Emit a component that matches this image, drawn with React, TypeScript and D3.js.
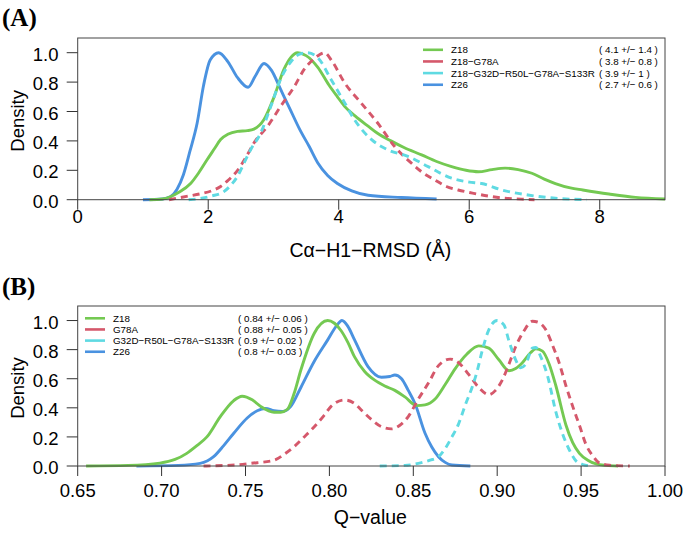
import React from "react";
import * as d3 from "d3";

// ---------- Panel A data (Cα-H1-RMSD, Å) ----------
const aTicksX = [0, 2, 4, 6, 8];
const yTicks = [0, 0.2, 0.4, 0.6, 0.8, 1.0];

const aZ18: [number, number][] = [
  [1.1, 0], [1.3, 0.005], [1.42, 0.02], [1.55, 0.05], [1.73, 0.11], [1.85, 0.18], [1.98, 0.27],
  [2.1, 0.35], [2.19, 0.41], [2.3, 0.445], [2.45, 0.465], [2.6, 0.47], [2.7, 0.48], [2.855, 0.545],
  [3.01, 0.7], [3.16, 0.886], [3.27, 0.97], [3.37, 1.0], [3.5, 0.98], [3.68, 0.9], [3.85, 0.78],
  [3.98, 0.7], [4.09, 0.635], [4.25, 0.57], [4.45, 0.5], [4.6, 0.45], [4.8, 0.4], [5.0, 0.355],
  [5.27, 0.305], [5.5, 0.26], [5.73, 0.225], [5.95, 0.2], [6.14, 0.19], [6.35, 0.205], [6.55, 0.215],
  [6.75, 0.205], [6.96, 0.18], [7.15, 0.14], [7.32, 0.11], [7.55, 0.08], [7.74, 0.066], [8.14, 0.039],
  [8.55, 0.016], [9.0, 0.005],
];
const aG78A: [number, number][] = [
  [1.4, 0], [1.52, 0.01], [1.7, 0.025], [1.88, 0.04], [2.05, 0.06], [2.19, 0.09], [2.3, 0.13],
  [2.45, 0.2], [2.58, 0.29], [2.7, 0.385], [2.91, 0.5], [3.11, 0.635], [3.32, 0.77], [3.47, 0.886],
  [3.6, 0.95], [3.7, 0.985], [3.78, 1.0], [3.9, 0.94], [4.09, 0.795], [4.34, 0.66], [4.6, 0.52],
  [4.86, 0.36], [5.11, 0.25], [5.3, 0.18], [5.47, 0.135], [5.65, 0.09], [5.83, 0.066], [6.05, 0.045],
  [6.29, 0.025], [6.5, 0.012], [6.8, 0.004], [7.0, 0],
];
const aQuad: [number, number][] = [
  [1.7, 0], [1.9, 0.01], [2.05, 0.025], [2.24, 0.055], [2.35, 0.1], [2.45, 0.16], [2.55, 0.25],
  [2.65, 0.34], [2.8, 0.45], [2.96, 0.635], [3.11, 0.82], [3.27, 0.94], [3.4, 0.99], [3.52, 1.0],
  [3.68, 0.966], [3.88, 0.82], [4.09, 0.66], [4.24, 0.545], [4.5, 0.41], [4.75, 0.34], [5.06, 0.295],
  [5.37, 0.225], [5.73, 0.146], [6.0, 0.12], [6.19, 0.11], [6.5, 0.066], [6.9, 0.032], [7.32, 0.01],
  [7.8, 0],
];
const aZ26: [number, number][] = [
  [1.0, 0], [1.3, 0.005], [1.42, 0.02], [1.52, 0.07], [1.62, 0.17], [1.72, 0.33], [1.83, 0.52],
  [1.93, 0.78], [2.03, 0.95], [2.16, 1.0], [2.3, 0.94], [2.45, 0.83], [2.61, 0.765], [2.72, 0.84],
  [2.855, 0.927], [2.97, 0.88], [3.11, 0.75], [3.25, 0.62], [3.4, 0.48], [3.55, 0.36], [3.68, 0.25],
  [3.83, 0.165], [3.98, 0.11], [4.2, 0.06], [4.45, 0.03], [4.96, 0.015], [5.5, 0.005],
];
const aNames = ["Z18", "Z18\u2212G78A", "Z18\u2212G32D\u2212R50L\u2212G78A\u2212S133R", "Z26"];
const aStats = ["( 4.1 +/\u2212 1.4 )", "( 3.8 +/\u2212 0.8 )", "( 3.9 +/\u2212 1 )", "( 2.7 +/\u2212 0.6 )"];

// ---------- Panel B data (Q-value) ----------
const bTicksX = [0.65, 0.7, 0.75, 0.8, 0.85, 0.9, 0.95, 1.0];

const bZ18: [number, number][] = [
  [0.655, 0], [0.68, 0.004], [0.699, 0.02], [0.708, 0.045], [0.715, 0.087], [0.721, 0.14],
  [0.727, 0.2], [0.735, 0.34], [0.743, 0.45], [0.748, 0.48], [0.754, 0.455], [0.759, 0.41],
  [0.767, 0.37], [0.771, 0.37], [0.775, 0.39], [0.779, 0.5], [0.783, 0.66], [0.791, 0.913],
  [0.799, 1.0], [0.807, 0.93], [0.811, 0.85], [0.815, 0.75], [0.821, 0.65], [0.827, 0.59],
  [0.833, 0.55], [0.839, 0.52], [0.845, 0.475], [0.852, 0.415], [0.857, 0.42], [0.863, 0.46],
  [0.869, 0.56], [0.875, 0.67], [0.882, 0.77], [0.889, 0.826], [0.895, 0.81], [0.901, 0.73],
  [0.907, 0.655], [0.911, 0.67], [0.915, 0.71], [0.92, 0.78], [0.923, 0.805], [0.927, 0.79],
  [0.931, 0.7], [0.935, 0.55], [0.941, 0.28], [0.945, 0.16], [0.949, 0.087], [0.954, 0.04],
  [0.959, 0.014], [0.965, 0.004], [0.972, 0],
];
const bG78A: [number, number][] = [
  [0.725, 0], [0.745, 0.008], [0.753, 0.018], [0.767, 0.04], [0.773, 0.08], [0.779, 0.133],
  [0.785, 0.2], [0.791, 0.27], [0.797, 0.35], [0.801, 0.41], [0.809, 0.454], [0.815, 0.43],
  [0.819, 0.385], [0.825, 0.32], [0.831, 0.27], [0.837, 0.255], [0.842, 0.28], [0.847, 0.34],
  [0.853, 0.46], [0.859, 0.57], [0.865, 0.69], [0.872, 0.735], [0.877, 0.71], [0.883, 0.63],
  [0.889, 0.54], [0.895, 0.49], [0.899, 0.52], [0.903, 0.59], [0.907, 0.7], [0.911, 0.82],
  [0.916, 0.93], [0.921, 0.995], [0.924, 0.99], [0.929, 0.936], [0.933, 0.83], [0.937, 0.707],
  [0.941, 0.55], [0.945, 0.41], [0.949, 0.28], [0.953, 0.145], [0.957, 0.07], [0.961, 0.02],
  [0.967, 0.005], [0.979, 0],
];
const bQuad: [number, number][] = [
  [0.83, 0], [0.845, 0.004], [0.853, 0.018], [0.86, 0.04], [0.865, 0.064], [0.869, 0.12],
  [0.873, 0.2], [0.877, 0.29], [0.881, 0.42], [0.885, 0.54], [0.888, 0.65], [0.891, 0.79],
  [0.895, 0.936], [0.9, 1.0], [0.904, 0.97], [0.907, 0.86], [0.911, 0.73], [0.914, 0.675],
  [0.917, 0.7], [0.921, 0.81], [0.923, 0.815], [0.926, 0.75], [0.93, 0.62], [0.935, 0.37],
  [0.939, 0.22], [0.943, 0.11], [0.947, 0.035], [0.951, 0.01], [0.956, 0],
];
const bZ26: [number, number][] = [
  [0.685, 0], [0.71, 0.004], [0.723, 0.018], [0.731, 0.064], [0.737, 0.14], [0.743, 0.225],
  [0.751, 0.33], [0.757, 0.38], [0.762, 0.395], [0.767, 0.38], [0.772, 0.375], [0.777, 0.41],
  [0.783, 0.54], [0.791, 0.72], [0.799, 0.867], [0.804, 0.96], [0.8075, 1.0], [0.811, 0.96],
  [0.815, 0.867], [0.823, 0.683], [0.831, 0.61], [0.836, 0.615], [0.839, 0.626], [0.843, 0.6],
  [0.847, 0.52], [0.851, 0.43], [0.857, 0.225], [0.861, 0.13], [0.865, 0.064], [0.869, 0.025],
  [0.873, 0.007], [0.884, 0],
];
const bNames = ["Z18", "G78A", "G32D\u2212R50L\u2212G78A\u2212S133R", "Z26"];
const bStats = ["( 0.84 +/\u2212 0.06 )", "( 0.88 +/\u2212 0.05 )", "( 0.9 +/\u2212 0.02 )", "( 0.8 +/\u2212 0.03 )"];

const colors = ["#74c952", "#d5586b", "#5fdae2", "#4a92e0"];
const dashed = [false, true, true, false];
const drawOrder = [3, 0, 1, 2];

const FONT = "'Liberation Sans', Arial, Helvetica, sans-serif";

type PanelProps = {
  top: number;
  bottom: number;
  xDomain: [number, number];
  xTicks: number[];
  xFmt: (v: number) => string;
  series: [number, number][][];
  names: string[];
  stats: string[];
  legendLineX: number;
  legendStatX: number;
  legendY0: number;
  legendDy: number;
  tag: string;
  tagY: number;
  xLabel: React.ReactNode;
  xLabelY: number;
  tickLabelY: number;
};

function Panel(p: PanelProps) {
  const left = 77.7;
  const right = 665;
  const x = d3.scaleLinear().domain(p.xDomain).range([left, right]);
  const y = d3.scaleLinear().domain([0, 1.1]).range([p.bottom, p.top]);
  const line = d3
    .line<[number, number]>()
    .x((d) => x(d[0]))
    .y((d) => y(d[1]))
    .curve(d3.curveMonotoneX);
  return (
    <g>
      <text x={2} y={p.tagY} fontFamily="'Liberation Serif', 'Times New Roman', serif" fontWeight="bold" fontSize={25}>
        {p.tag}
      </text>
      <g>
        {drawOrder.map((i) => (
          <path
            key={i}
            d={line(p.series[i]) || ""}
            fill="none"
            stroke={colors[i]}
            strokeWidth={2.9}
            strokeDasharray={dashed[i] ? "7,5" : undefined}
            strokeLinejoin="round"
          />
        ))}
      </g>
      <rect x={left} y={p.top} width={right - left} height={p.bottom - p.top} fill="none" stroke="#444" strokeWidth={1} />
      {p.xTicks.map((t) => (
        <g key={t}>
          <line x1={x(t)} x2={x(t)} y1={p.bottom} y2={p.bottom + 10} stroke="#333" strokeWidth={1} />
          <text x={x(t)} y={p.tickLabelY} textAnchor="middle" fontFamily={FONT} fontSize={18.5}>
            {p.xFmt(t)}
          </text>
        </g>
      ))}
      {yTicks.map((t) => (
        <g key={t}>
          <line x1={left - 11} x2={left} y1={y(t)} y2={y(t)} stroke="#333" strokeWidth={1} />
          <text x={58.5} y={y(t) + 8} textAnchor="end" fontFamily={FONT} fontSize={18.5}>
            {d3.format(".1f")(t)}
          </text>
        </g>
      ))}
      <text
        transform={`translate(${23.5},${(p.top + p.bottom) / 2 + 2}) rotate(-90)`}
        textAnchor="middle"
        fontFamily={FONT}
        fontSize={18.5}
      >
        Density
      </text>
      <text x={(left + right) / 2 - 1} y={p.xLabelY} textAnchor="middle" fontFamily={FONT} fontSize={19.5}>
        {p.xLabel}
      </text>
      {p.names.map((n, i) => {
        const ly = p.legendY0 + i * p.legendDy;
        return (
          <g key={n}>
            <line x1={p.legendLineX} x2={p.legendLineX + 20} y1={ly} y2={ly} stroke={colors[i]} strokeWidth={2.6} />
            <text x={p.legendLineX + 28} y={ly + 3.6} fontFamily={FONT} fontSize={9.8}>
              {n}
            </text>
            <text x={p.legendStatX} y={ly + 3.6} fontFamily={FONT} fontSize={9.8}>
              {p.stats[i]}
            </text>
          </g>
        );
      })}
    </g>
  );
}

export default function App() {
  return (
    <svg
      width={685}
      height={533}
      viewBox="0 0 685 533"
      style={{ position: "absolute", left: 0, top: 0, background: "#fff" }}
    >
      <rect x={0} y={0} width={685} height={533} fill="#fff" />
      <Panel
        top={38}
        bottom={199.7}
        xDomain={[0, 9]}
        xTicks={aTicksX}
        xFmt={(v) => String(v)}
        series={[aZ18, aG78A, aQuad, aZ26]}
        names={aNames}
        stats={aStats}
        legendLineX={423}
        legendStatX={599}
        legendY0={49.8}
        legendDy={11.65}
        tag="(A)"
        tagY={26}
        xLabel={"C\u03b1\u2212H1\u2212RMSD (\u00c5)"}
        xLabelY={257}
        tickLabelY={223}
      />
      <Panel
        top={306}
        bottom={466}
        xDomain={[0.65, 1.0]}
        xTicks={bTicksX}
        xFmt={(v) => d3.format(".2f")(v)}
        series={[bZ18, bG78A, bQuad, bZ26]}
        names={bNames}
        stats={bStats}
        legendLineX={85}
        legendStatX={238}
        legendY0={318.3}
        legendDy={11.15}
        tag="(B)"
        tagY={295}
        xLabel={"Q\u2212value"}
        xLabelY={524}
        tickLabelY={496.5}
      />
    </svg>
  );
}
